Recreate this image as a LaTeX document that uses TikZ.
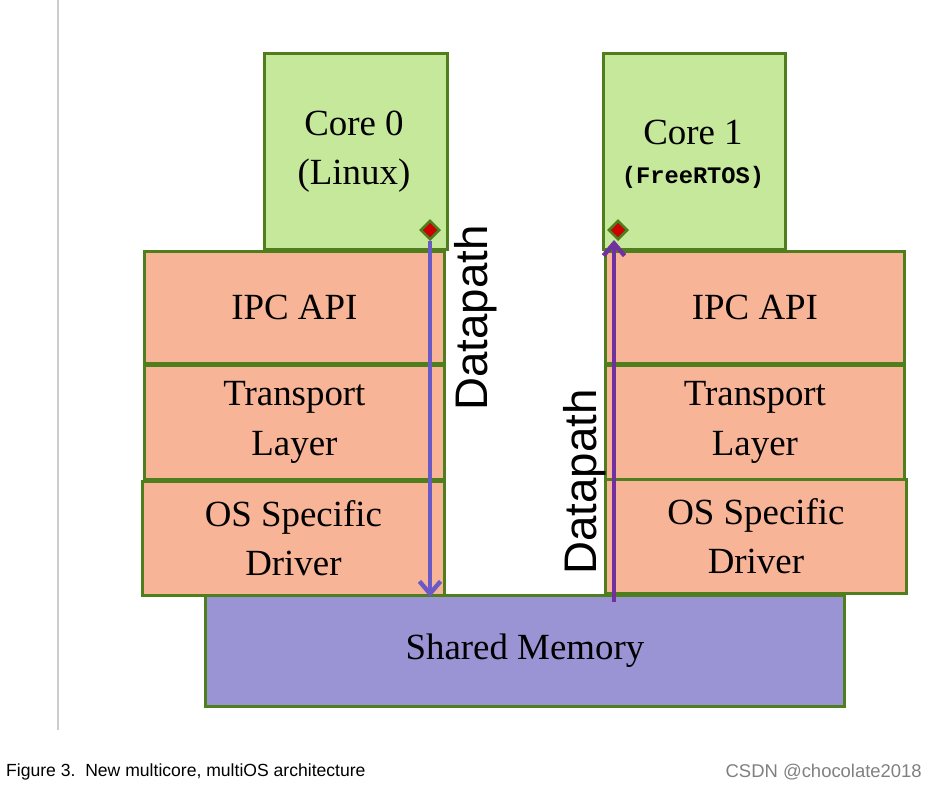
\documentclass[tikz,border=0pt]{standalone}
\usepackage{fontspec}
\setmainfont{Liberation Serif}
\newfontfamily\capfont{Liberation Sans}
\newfontfamily\monofont{Liberation Mono}
\usetikzlibrary{shapes.geometric,arrows.meta}
\definecolor{coregreen}{HTML}{C5E89A}
\definecolor{edgegreen}{HTML}{4E7F1C}
\definecolor{layersalmon}{HTML}{F8B496}
\definecolor{memviolet}{HTML}{9B94D4}
\definecolor{arrowblue}{HTML}{6A5AC8}
\definecolor{arrowpurple}{HTML}{7030A0}
\tikzset{
  box/.style={draw=edgegreen, line width=1.6pt, inner sep=0pt, align=center, font=\fontsize{21}{28}\selectfont},
  core/.style={box, fill=coregreen},
  layer/.style={box, fill=layersalmon},
  tip/.style={diamond, draw=edgegreen, fill=red!80!black, line width=1.5pt, minimum size=11pt, inner sep=0pt},
  dp/.style={font=\capfont\fontsize{26}{28}\selectfont, rotate=90}
}
\begin{document}
\begin{tikzpicture}[x=0.02cm, y=-0.02cm]
  \useasboundingbox (0,0) rectangle (942,789);
  \draw[gray!40, line width=0.8pt] (58,0) -- (58,730);
  % cores
  \node[core, minimum width=183*0.02cm, minimum height=196*0.02cm, anchor=north west] (core0) at (263,52) {};
  \node at (354,152) [font=\fontsize{21}{28}\selectfont, align=center] {Core 0\\(Linux)};
  \node[core, minimum width=182*0.02cm, minimum height=196*0.02cm, anchor=north west] (core1) at (602,52) {};
  \node at (693,154) [align=center] {{\fontsize{21}{28}\selectfont Core 1}\\[10pt]{\monofont\bfseries\fontsize{13.5}{14}\selectfont (FreeRTOS)}};
  % left stack
  \node[layer, minimum width=300*0.02cm, minimum height=112*0.02cm, anchor=north west] (ipc0) at (143,250) {IPC API};
  \node[layer, minimum width=300*0.02cm, minimum height=114*0.02cm, anchor=north west] (trans0) at (143,364) {Transport\\Layer};
  \node[layer, minimum width=302*0.02cm, minimum height=114*0.02cm, anchor=north west] (drv0) at (141,480) {OS Specific\\Driver};
  % right stack
  \node[layer, minimum width=299*0.02cm, minimum height=112*0.02cm, anchor=north west] (ipc1) at (604,250) {IPC API};
  \node[layer, minimum width=299*0.02cm, minimum height=114*0.02cm, anchor=north west] (trans1) at (604,364) {Transport\\Layer};
  \node[layer, minimum width=301*0.02cm, minimum height=114*0.02cm, anchor=north west] (drv1) at (604,478) {OS Specific\\Driver};
  % memory
  \node[box, fill=memviolet, minimum width=639*0.02cm, minimum height=111*0.02cm, anchor=north west] (mem) at (204,594) {Shared Memory};
  % datapaths
  \node[tip] (tip0) at (430,230) {};
  \node[tip] (tip1) at (618,230) {};
  \coordinate (end0) at (430,597);
  \coordinate (start1) at (614,602);
  \coordinate (end1) at (614,240);
  \draw[arrowblue, line width=2.5pt, -{Straight Barb[length=7pt,width=12pt]}] (tip0) -- (end0);
  \draw[arrowpurple, line width=2.5pt, -{Straight Barb[length=7pt,width=12pt]}] (start1) -- (end1);
  \node[dp] (dp0) at (476,318) {Datapath};
  \node[dp] (dp1) at (585,482) {Datapath};
  % caption
  \node[anchor=west, font=\capfont\fontsize{10}{12}\selectfont] (cap) at (0,772) {Figure 3.\ \ New multicore, multiOS architecture};
  \node[anchor=east, font=\capfont\fontsize{10.5}{12}\selectfont, text=gray] (mark) at (928,772) {CSDN @chocolate2018};
\end{tikzpicture}
\end{document}
